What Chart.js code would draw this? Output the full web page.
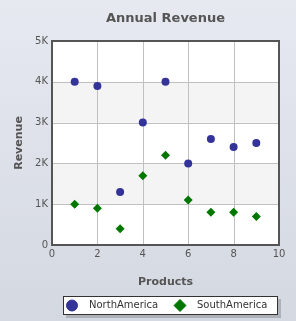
<!DOCTYPE html>
<html><head><meta charset="utf-8">
<script src="https://cdn.jsdelivr.net/npm/chart.js@4/dist/chart.umd.min.js"></script>
<style>
html,body{margin:0;padding:0;}
body{width:296px;height:321px;background:linear-gradient(#e6e9f0,#d4d8e1);}
canvas{display:block;}
</style></head><body>
<canvas id="c" width="296" height="321"></canvas>
<script>
const products = [1,2,3,4,5,6,7,8,9];
const northAmerica = [4000,3900,1300,3000,4000,2000,2600,2400,2500];
const southAmerica = [1000,900,400,1700,2200,1100,800,800,700];
const seriesNames = ['NorthAmerica','SouthAmerica'];
const seriesColors = ['#333399','#007700'];
const titleText = 'Annual Revenue';

const FONT = '"DejaVu Sans", Verdana, sans-serif';

const decor = {
  id:'decor',
  beforeDatasetsDraw(chart){
    const {ctx, chartArea:a, scales:{y}} = chart;
    ctx.save();
    ctx.fillStyle = '#ffffff';
    ctx.fillRect(a.left, a.top, a.right-a.left, a.bottom-a.top);
    ctx.fillStyle = '#f4f4f4';
    [[1000,2000],[3000,4000]].forEach(([lo,hi])=>{
      const t = y.getPixelForValue(hi), b = y.getPixelForValue(lo);
      ctx.fillRect(a.left, t, a.right-a.left, b-t);
    });
    ctx.strokeStyle = '#c0c0c0'; ctx.lineWidth = 1;
    chart.scales.x.ticks.forEach(t=>{
      const px = Math.round(chart.scales.x.getPixelForValue(t.value))+0.5;
      ctx.beginPath(); ctx.moveTo(px,a.top); ctx.lineTo(px,a.bottom); ctx.stroke();
    });
    y.ticks.forEach(t=>{
      const py = Math.round(y.getPixelForValue(t.value))+0.5;
      ctx.beginPath(); ctx.moveTo(a.left,py); ctx.lineTo(a.right,py); ctx.stroke();
    });
    ctx.restore();
  },
  afterDatasetsDraw(chart){
    const {ctx, chartArea:a} = chart;
    ctx.save();
    ctx.strokeStyle = '#555'; ctx.lineWidth = 2;
    ctx.strokeRect(a.left, a.top, a.right-a.left, a.bottom-a.top);
    ctx.restore();
  },
  afterDraw(chart){
    const {ctx, chartArea:a} = chart;
    ctx.save();
    ctx.fillStyle = '#555';
    ctx.font = 'bold 13px ' + FONT;
    ctx.textAlign = 'center'; ctx.textBaseline = 'middle';
    ctx.fillText(titleText, (a.left+a.right)/2, 19);
    const bx = 63, by = 296, bw = 215, bh = 19;
    ctx.fillStyle = 'rgba(0,0,0,0.18)';
    ctx.fillRect(bx+3, by+3, bw, bh);
    ctx.fillStyle = '#fff';
    ctx.fillRect(bx, by, bw, bh);
    ctx.strokeStyle = '#333'; ctx.lineWidth = 1;
    ctx.strokeRect(bx+0.5, by+0.5, bw-1, bh-1);
    const items = [
      {x:72, tx:89, style:'circle', r:5.5},
      {x:180, tx:197, style:'rectRot', r:6}
    ];
    items.forEach((it,i)=>{
      ctx.fillStyle = seriesColors[i]; ctx.strokeStyle = seriesColors[i];
      Chart.helpers.drawPoint(ctx, {pointStyle:it.style, radius:it.r, borderWidth:1}, it.x, by+bh/2);
      ctx.fillStyle = '#333';
      ctx.font = '10px ' + FONT;
      ctx.textAlign = 'left'; ctx.textBaseline = 'middle';
      ctx.fillText(seriesNames[i], it.tx, by+bh/2);
    });
    ctx.restore();
  }
};

new Chart(document.getElementById('c'), {
  type:'scatter',
  data:{
    datasets:[
      {label:seriesNames[0], data:products.map((p,i)=>({x:p,y:northAmerica[i]})),
       backgroundColor:seriesColors[0], borderColor:seriesColors[0], pointStyle:'circle', pointRadius:4, borderWidth:0},
      {label:seriesNames[1], data:products.map((p,i)=>({x:p,y:southAmerica[i]})),
       backgroundColor:seriesColors[1], borderColor:seriesColors[1], pointStyle:'rectRot', pointRadius:4.5, borderWidth:0}
    ]
  },
  options:{
    responsive:false, animation:false, devicePixelRatio:1,
    layout:{padding:{left:0,top:41,right:17,bottom:26}},
    plugins:{legend:{display:false}, title:{display:false}, tooltip:{enabled:false}},
    scales:{
      x:{type:'linear', min:0, max:10,
         ticks:{stepSize:2, color:'#555', font:{family:FONT,size:10}, padding:3, maxRotation:0},
         grid:{display:false, drawTicks:false}, border:{display:false},
         title:{display:true, text:'Products', color:'#555', font:{family:FONT,size:11,weight:'bold'}, padding:{top:0,bottom:6}},
         afterFit(s){ s.height = 50; }},
      y:{type:'linear', min:0, max:5000,
         ticks:{stepSize:1000, color:'#555', font:{family:FONT,size:10}, padding:4,
                callback:v=> v===0 ? '0' : (v/1000)+'K'},
         grid:{display:false, drawTicks:false}, border:{display:false},
         title:{display:true, text:'Revenue', color:'#555', font:{family:FONT,size:11,weight:'bold'}, padding:{top:13,bottom:0}},
         afterFit(s){ s.width = 52; }}
    }
  },
  plugins:[decor]
});
</script>
</body></html>
